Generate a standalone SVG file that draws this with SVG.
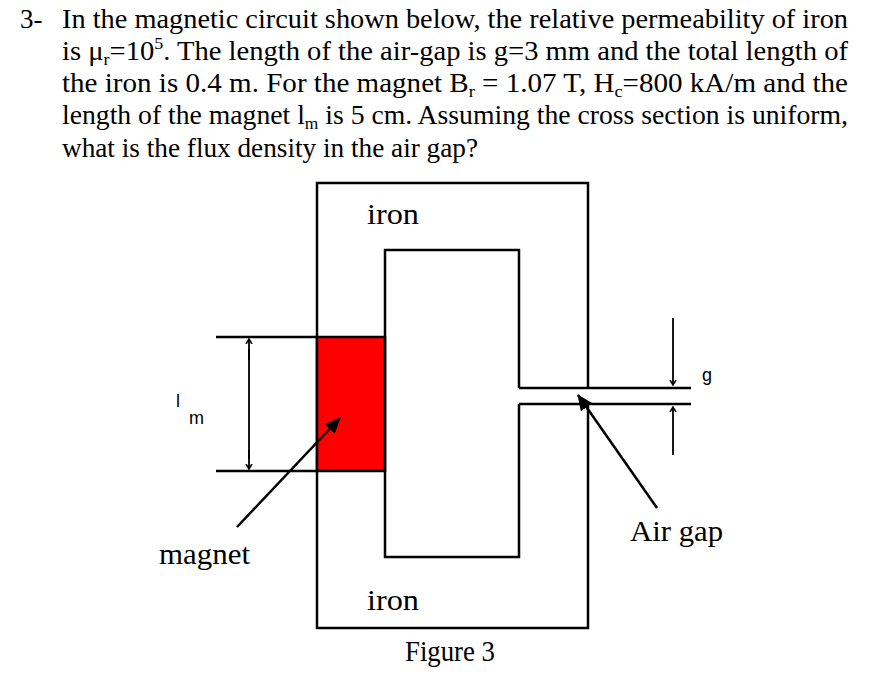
<svg xmlns="http://www.w3.org/2000/svg" width="872" height="699" viewBox="0 0 872 699">
<style>
.t{font-family:"Liberation Serif",serif;font-size:27px;fill:#000}
.b{font-family:"Liberation Serif",serif;font-size:30px;fill:#000}
.s{font-family:"Liberation Sans",sans-serif;font-size:18px;fill:#000}
.l{stroke:#000;stroke-width:2.5;fill:none}
.d{stroke:#000;stroke-width:1.8;fill:none}
</style>
<defs>
<marker id="ah" markerWidth="16" markerHeight="14" refX="15" refY="7" orient="auto" markerUnits="userSpaceOnUse" viewBox="0 0 16 14"><path d="M0,0 L16,7 L0,14 z" fill="#000"/></marker>
<marker id="sa" markerWidth="6" markerHeight="8" refX="5" refY="4" orient="auto" markerUnits="userSpaceOnUse" viewBox="0 0 6 8"><path d="M0,1 L5,4 L0,7" fill="none" stroke="#000" stroke-width="1.5"/></marker>
</defs>
<g id="question">
<text class="t" x="20" y="28">3-</text>
<text class="t" x="62" y="28" textLength="786" lengthAdjust="spacingAndGlyphs">In the magnetic circuit shown below, the relative permeability of iron</text>
<text class="t" x="62" y="60" textLength="786" lengthAdjust="spacingAndGlyphs">is μ<tspan font-size="17" dy="5">r</tspan><tspan dy="-5">=10</tspan><tspan font-size="17" dy="-11">5</tspan><tspan dy="11">. The length of the air-gap is g=3 mm and the total length of</tspan></text>
<text class="t" x="62" y="92" textLength="786" lengthAdjust="spacingAndGlyphs">the iron is 0.4 m. For the magnet B<tspan font-size="17" dy="5">r</tspan><tspan dy="-5"> = 1.07 T, H</tspan><tspan font-size="17" dy="5">c</tspan><tspan dy="-5">=800 kA/m and the</tspan></text>
<text class="t" x="62" y="124" textLength="786" lengthAdjust="spacingAndGlyphs">length of the magnet l<tspan font-size="17" dy="5">m</tspan><tspan dy="-5"> is 5 cm. Assuming the cross section is uniform,</tspan></text>
<text class="t" x="62" y="157" textLength="416" lengthAdjust="spacingAndGlyphs">what is the flux density in the air gap?</text>
</g>
<g id="core">
<path class="l" d="M588,388 V183 H317 V628 H588 V404"/>
<path class="l" d="M519,388 V250 H385 V557 H519 V404"/>
<path class="l" d="M519,388 H691 M519,404 H691"/>
</g>
<g id="magnet">
<rect x="317" y="337" width="68" height="134" fill="#ff0000" stroke="#000" stroke-width="2.5"/>
</g>
<g id="connectors">
<path class="l" d="M216,337 H317 M216,471 H317"/>
<path class="d" d="M249,349 V459" />
<path class="d" d="M249,360 V339" marker-end="url(#sa)"/>
<path class="d" d="M249,450 V469" marker-end="url(#sa)"/>
<path class="d" d="M673,318 V385" marker-end="url(#sa)"/>
<path class="d" d="M673,455 V407" marker-end="url(#sa)"/>
<path class="l" d="M237,527 L340,418" marker-end="url(#ah)"/>
<path class="l" d="M657,508 L578,395" marker-end="url(#ah)"/>
</g>
<g id="labels">
<text class="b" x="367" y="224" textLength="52" lengthAdjust="spacingAndGlyphs">iron</text>
<text class="b" x="367" y="610" textLength="52" lengthAdjust="spacingAndGlyphs">iron</text>
<text class="b" x="405" y="661" textLength="90" lengthAdjust="spacingAndGlyphs">Figure 3</text>
<text class="b" x="159" y="564" textLength="91" lengthAdjust="spacingAndGlyphs">magnet</text>
<text class="b" x="630" y="541" textLength="93" lengthAdjust="spacingAndGlyphs">Air gap</text>
<text class="s" x="176" y="407">l</text>
<text class="s" x="189" y="424">m</text>
<text class="s" x="702" y="381">g</text>
</g>
</svg>
